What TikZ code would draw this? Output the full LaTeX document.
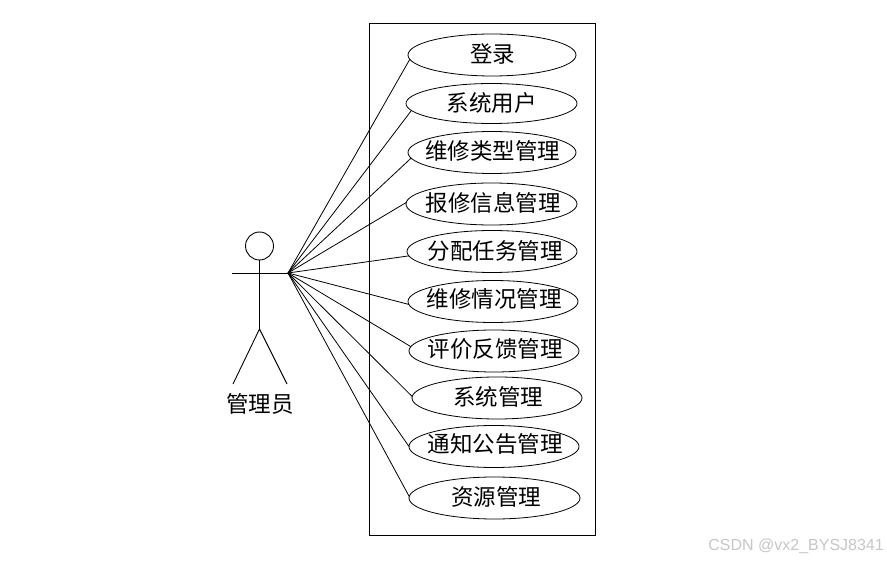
\documentclass[tikz,border=0pt]{standalone}
\usepackage{fontspec}
\setmainfont{Liberation Sans}
\newfontfamily\cjk{Noto Sans CJK SC}
\usetikzlibrary{shapes.geometric}
\newcommand\uctext[3]{\smash{\makebox[0pt]{\hspace*{#1pt}\raisebox{\dimexpr-8.5pt+#2pt\relax}{#3}}}}
\tikzset{
  usecase/.style={draw=black,ellipse,line width=0.8pt,inner sep=0pt,outer sep=0pt,minimum width=#1pt,minimum height=42pt,font=\cjk\fontsize{22.5}{24}\selectfont},
  usecase/.default=170,
  link/.style={draw=black,line width=0.8pt},
  stick/.style={draw=black,line width=0.9pt}
}
\begin{document}
\begin{tikzpicture}[x=1pt,y=-1pt]
\useasboundingbox (0,0) rectangle (887,561);
\fill[white] (0,0) rectangle (887,561);
\node[draw=black,line width=0.9pt,minimum width=226pt,minimum height=512pt,inner sep=0pt,outer sep=0pt] (sys) at (482.5,279) {};
\node[usecase=168] (u1) at (492,55) {\uctext{1}{1}{登录}};
\node[usecase=171,minimum height=40pt] (u2) at (491.5,103.5) {\uctext{0}{0.5}{系统用户}};
\node[usecase=168] (u3) at (492,152.5) {\uctext{1}{1.5}{维修类型管理}};
\node[usecase=171] (u4) at (491.5,204) {\uctext{3}{1}{报修信息管理}};
\node[usecase=170] (u5) at (492,251.5) {\uctext{6}{0.5}{分配任务管理}};
\node[usecase=170] (u6) at (493,301.5) {\uctext{2}{2}{维修情况管理}};
\node[usecase=170] (u7) at (494,351) {\uctext{2}{2}{评价反馈管理}};
\node[usecase=170] (u8) at (497,398) {\uctext{2}{0.5}{系统管理}};
\node[usecase=170] (u9) at (494,446.5) {\uctext{2}{2.5}{通知公告管理}};
\node[usecase=171] (u10) at (494.5,498) {\uctext{3}{1.5}{资源管理}};
\node[draw=black,circle,line width=0.9pt,minimum size=28pt,inner sep=0pt,outer sep=0pt] (head) at (259.5,246) {};
\coordinate (crotch) at (259.5,329);
\coordinate (armL) at (232,273);
\coordinate (hand) at (288,273);
\coordinate (footL) at (233,384);
\coordinate (footR) at (287,384);
\draw[stick] (head.south) -- (crotch);
\draw[stick] (armL) -- (hand);
\draw[stick] (footL) -- (crotch) -- (footR);
\node[font=\cjk\fontsize{22.5}{24}\selectfont,inner sep=0pt] (actor) at (260,403.5) {管理员};
\draw[link] (hand) -- (u1.183.4);
\draw[link] (hand) -- (u2.185);
\draw[link] (hand) -- (u3.184.5);
\draw[link] (hand) -- (u4.179.3);
\draw[link] (hand) -- (u5.183);
\draw[link] (hand) -- (u6.182.4);
\draw[link] (hand) -- (u7.177.3);
\draw[link] (hand) -- (u8.179.3);
\draw[link] (hand) -- (u9.180.3);
\draw[link] (hand) -- (u10.179.3);
\node[font=\fontsize{16}{18}\selectfont,text=black!22,inner sep=0pt,anchor=east] (wm) at (884,546) {CSDN @vx2\_BYSJ8341};
\end{tikzpicture}
\end{document}
